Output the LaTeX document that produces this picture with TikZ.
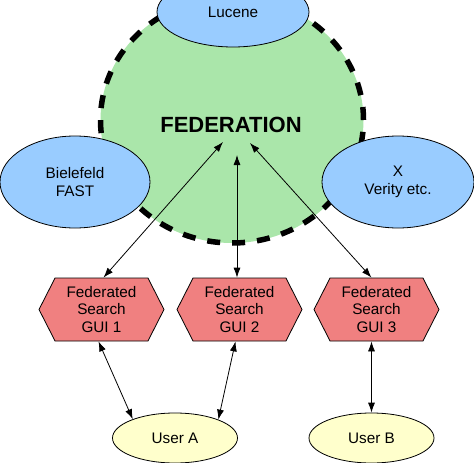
\documentclass[tikz,border=0pt]{standalone}
\usepackage{fontspec}
\setmainfont{Liberation Sans}
\usetikzlibrary{shapes.geometric,shapes.symbols,arrows.meta}
\definecolor{fedgreen}{RGB}{170,230,170}
\definecolor{srcblue}{RGB}{153,204,255}
\definecolor{guired}{RGB}{240,128,128}
\definecolor{useryellow}{RGB}{255,255,204}
\tikzset{
  txt/.style={font=\fontsize{15.3}{17.5}\selectfont, align=center},
  fed/.style={ellipse, fill=fedgreen, draw=black, line width=5.5pt, dash pattern=on 13pt off 12pt, minimum width=263pt, minimum height=246pt},
  source/.style={txt, ellipse, draw=black, fill=srcblue, line width=0.8pt, inner sep=0pt},
  gui/.style={txt, signal, signal to=east and west, signal pointer angle=126, draw=black, fill=guired, line width=0.8pt, minimum width=125pt, minimum height=63pt, inner sep=0pt},
  user/.style={txt, ellipse, draw=black, fill=useryellow, line width=0.8pt, minimum width=125pt, minimum height=50pt, inner sep=0pt},
  arrowlink/.style={{Latex[length=10pt,width=7pt]}-{Latex[length=10pt,width=7pt]}, line width=0.8pt}
}
\begin{document}
\begin{tikzpicture}[x=1pt,y=-1pt]
\useasboundingbox (0,0) rectangle (474,463);
\clip (0,0) rectangle (474,463);
\node[fed] (fed) at (232,120) {};
\node[font=\fontsize{22}{26}\selectfont\bfseries] (fedlabel) at (231,124.5) {FEDERATION};
\node[source, minimum width=152pt, minimum height=70pt] (lucene) at (233,12) {Lucene};
\node[source, minimum width=150pt, minimum height=92pt] (bielefeld) at (75,182) {Bielefeld\\FAST};
\node[source, minimum width=152pt, minimum height=92pt] (verity) at (398,182) {X\\Verity etc.};
\node[gui] (gui1) at (101.5,309.5) {Federated\\Search\\GUI 1};
\node[gui] (gui2) at (239.5,309.5) {Federated\\Search\\GUI 2};
\node[gui] (gui3) at (376.5,309.5) {Federated\\Search\\GUI 3};
\node[user] (userA) at (175,438) {User A};
\node[user] (userB) at (371.5,438) {User B};
\coordinate (fedL) at (223,142);
\coordinate (fedM) at (237,155);
\coordinate (fedR) at (250,143);
\draw[arrowlink] ([xshift=2pt]gui1.north) -- (fedL);
\draw[arrowlink] (gui2.north -| fedM) -- (fedM);
\draw[arrowlink] (gui3.north -| userB) -- (fedR);
\draw[arrowlink] ([xshift=-3pt]gui1.south) -- (userA.156);
\draw[arrowlink] ([xshift=-4pt]gui2.south) -- (userA.23);
\draw[arrowlink] (gui3.south -| userB) -- (userB.north);
\end{tikzpicture}
\end{document}
